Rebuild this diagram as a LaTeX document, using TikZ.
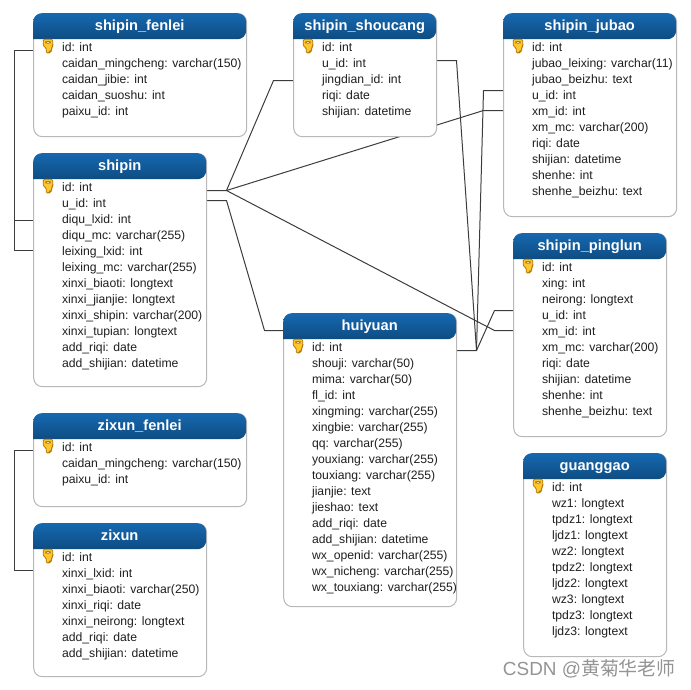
\documentclass[tikz,border=0pt]{standalone}
\usepackage{fontspec}
\setmainfont{Liberation Sans}
\newfontfamily\cjkwm{Noto Sans CJK SC}
\usetikzlibrary{backgrounds}
\definecolor{hdtop}{HTML}{1668B0}
\definecolor{hdbot}{HTML}{0E4C82}
\definecolor{boxedge}{HTML}{B8B8B8}
\definecolor{linkc}{HTML}{3C3C3C}
\definecolor{keyfill}{HTML}{FFC62E}
\definecolor{keyedge}{HTML}{B07800}
\tikzset{
  x=0.75pt,y=-0.75pt,
  tablebody/.style={draw=boxedge,line width=0.75pt,fill=white,rounded corners=6.5pt,inner sep=0pt,anchor=north west},
  rowtext/.style={anchor=base west,inner sep=0pt,font=\fontsize{9.15}{11}\selectfont,text=black!88},
  titletext/.style={anchor=base,inner sep=0pt,font=\fontsize{11}{13}\selectfont\bfseries,text=white},
  hdshade/.style={top color=hdtop,bottom color=hdbot,draw=none},
  link/.style={draw=linkc,line width=0.75pt,line join=round},
  watermark/.style={anchor=base west,inner sep=0pt,font=\fontsize{14.2}{16}\selectfont,text=black!42},
}
% name, x, y, w, h, title, rows
\newcommand{\erbox}[7]{%
  \node[tablebody,minimum width=#4*0.75pt,minimum height=#5*0.75pt] (#1) at (#2,#3) {};
  \path[hdshade,rounded corners=6.5pt] (#2,#3+26) -- (#2,#3) -- (#2+#4,#3) -- (#2+#4,#3+26) [sharp corners] -- cycle;
  \node[titletext] (#1-title) at (#2+#4/2,#3+17) {#6};
  \begin{scope}[shift={(#2+9.5,#3+26)}]
    \path[fill=keyfill,draw=keyedge,line width=0.6pt,rounded corners=1pt,even odd rule]
      (0.5,0) -- (10,0) -- (10,7) -- (9,8.5) -- (9,12) -- (7,12) -- (7,13.5) -- (3.5,14) -- (3.5,8.5) -- (0.5,7) -- cycle
      (3,2.2) -- (7.5,2.2) -- (7.5,4) -- (3,4) -- cycle;
  \end{scope}
  \foreach \t [count=\i] in {#7} {
    \node[rowtext] (#1-\i) at (#2+28.6,#3+38+16*\i-16) {\t};
  }
}
\begin{document}
\begin{tikzpicture}
\useasboundingbox (0,0) rectangle (690,690);
\begin{scope}[shift={(-0.3,-0.3)}]
\erbox{fenlei}{33.5}{13.5}{213}{123}{shipin\_fenlei}{id: int,caidan\_mingcheng: varchar(150),caidan\_jibie: int,caidan\_suoshu: int,paixu\_id: int}
\erbox{shipin}{33.5}{153.5}{173}{233}{shipin}{id: int,u\_id: int,diqu\_lxid: int,diqu\_mc: varchar(255),leixing\_lxid: int,leixing\_mc: varchar(255),xinxi\_biaoti: longtext,xinxi\_jianjie: longtext,xinxi\_shipin: varchar(200),xinxi\_tupian: longtext,add\_riqi: date,add\_shijian: datetime}
\erbox{zxfenlei}{33.5}{413.5}{213}{93}{zixun\_fenlei}{id: int,caidan\_mingcheng: varchar(150),paixu\_id: int}
\erbox{zixun}{33.5}{523.5}{173}{153}{zixun}{id: int,xinxi\_lxid: int,xinxi\_biaoti: varchar(250),xinxi\_riqi: date,xinxi\_neirong: longtext,add\_riqi: date,add\_shijian: datetime}
\erbox{shoucang}{293.5}{13.5}{143}{123}{shipin\_shoucang}{id: int,u\_id: int,jingdian\_id: int,riqi: date,shijian: datetime}
\erbox{jubao}{503.5}{13.5}{173}{203}{shipin\_jubao}{id: int,jubao\_leixing: varchar(11),jubao\_beizhu: text,u\_id: int,xm\_id: int,xm\_mc: varchar(200),riqi: date,shijian: datetime,shenhe: int,shenhe\_beizhu: text}
\erbox{pinglun}{513.5}{233.5}{153}{203}{shipin\_pinglun}{id: int,xing: int,neirong: longtext,u\_id: int,xm\_id: int,xm\_mc: varchar(200),riqi: date,shijian: datetime,shenhe: int,shenhe\_beizhu: text}
\erbox{huiyuan}{283.5}{313.5}{173}{293}{huiyuan}{id: int,shouji: varchar(50),mima: varchar(50),fl\_id: int,xingming: varchar(255),xingbie: varchar(255),qq: varchar(255),youxiang: varchar(255),touxiang: varchar(255),jianjie: text,jieshao: text,add\_riqi: date,add\_shijian: datetime,wx\_openid: varchar(255),wx\_nicheng: varchar(255),wx\_touxiang: varchar(255)}
\erbox{guanggao}{523.5}{453.5}{143}{203}{guanggao}{id: int,wz1: longtext,tpdz1: longtext,ljdz1: longtext,wz2: longtext,tpdz2: longtext,ljdz2: longtext,wz3: longtext,tpdz3: longtext,ljdz3: longtext}
\node[watermark] (wm) at (503,676) {CSDN @{\cjkwm 黄菊华老师}};
\end{scope}
% bend points
\coordinate (fa) at (14.5,50.5);
\coordinate (fb) at (14.5,220.5);
\coordinate (fc) at (14.5,250.5);
\coordinate (za) at (14.5,450.5);
\coordinate (zb) at (14.5,570.5);
\coordinate (sa) at (226.5,190.5);
\coordinate (sb) at (226.5,200.5);
\coordinate (sh1) at (273.5,80.5);
\coordinate (ju1) at (483.5,110.5);
\coordinate (pl1) at (494.5,330.5);
\coordinate (hu1) at (264.5,330.5);
\coordinate (ha) at (476.5,350.5);
\coordinate (sh2) at (456.5,60.5);
\coordinate (ju2) at (483.5,90.5);
\coordinate (pl2) at (494.5,310.5);
\begin{scope}[on background layer]
\draw[link] (fenlei.west |- fa) -- (fa) -- (fc) -- (shipin.west |- fc);
\draw[link] (fb) -- (shipin.west |- fb);
\draw[link] (zxfenlei.west |- za) -- (za) -- (zb) -- (zixun.west |- zb);
\draw[link] (shipin.east |- sa) -- (sa) -- (sh1) -- (shoucang.west |- sh1);
\draw[link] (sa) -- (ju1) -- (jubao.west |- ju1);
\draw[link] (sa) -- (pl1) -- (pinglun.west |- pl1);
\draw[link] (shipin.east |- sb) -- (sb) -- (hu1) -- (huiyuan.west |- hu1);
\draw[link] (huiyuan.east |- ha) -- (ha) -- (sh2) -- (shoucang.east |- sh2);
\draw[link] (ha) -- (ju2) -- (jubao.west |- ju2);
\draw[link] (ha) -- (pl2) -- (pinglun.west |- pl2);
\end{scope}
\end{tikzpicture}
\end{document}
